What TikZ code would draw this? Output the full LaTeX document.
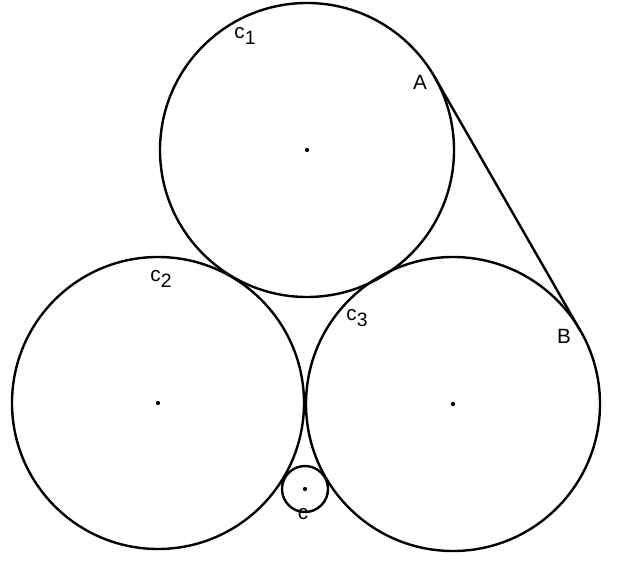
\documentclass[tikz,border=0pt]{standalone}
\usepackage{fontspec}
\setmainfont{Liberation Sans}
\newcommand{\sub}[1]{\raisebox{-0.3em}{\fontsize{14.5}{16}\selectfont #1}}
\begin{document}
\begin{tikzpicture}[x=0.75pt,y=-0.75pt,
  circ/.style={draw=black,line width=1.8pt},
  ctr/.style={circle,fill=black,inner sep=0pt,minimum size=3.2pt},
  lab/.style={font=\fontsize{15.5}{18}\selectfont,inner sep=0pt}]
\useasboundingbox (0,0) rectangle (620,566);
\node[ctr] (c1) at (307,150) {};
\node[ctr] (c2) at (158,403) {};
\node[ctr] (c3) at (453,404) {};
\node[ctr] (c) at (305,489) {};
\draw[circ] (c1) circle[radius=110.25pt];
\draw[circ] (c2) circle[radius=109.5pt];
\draw[circ] (c3) circle[radius=110.25pt];
\draw[circ] (c) circle[radius=17.25pt];
\coordinate (A) at (434.5,76.8);
\coordinate (B) at (580.4,330.8);
\draw[circ] (A) -- (B);
\node[lab] (l1) at (245,36) {c\sub{1}};
\node[lab] (lA) at (420,82) {A};
\node[lab] (l2) at (161,279) {c\sub{2}};
\node[lab] (l3) at (357,318) {c\sub{3}};
\node[lab] (lB) at (564,336) {B};
\node[lab] (lc) at (303,514) {c};
\end{tikzpicture}
\end{document}
